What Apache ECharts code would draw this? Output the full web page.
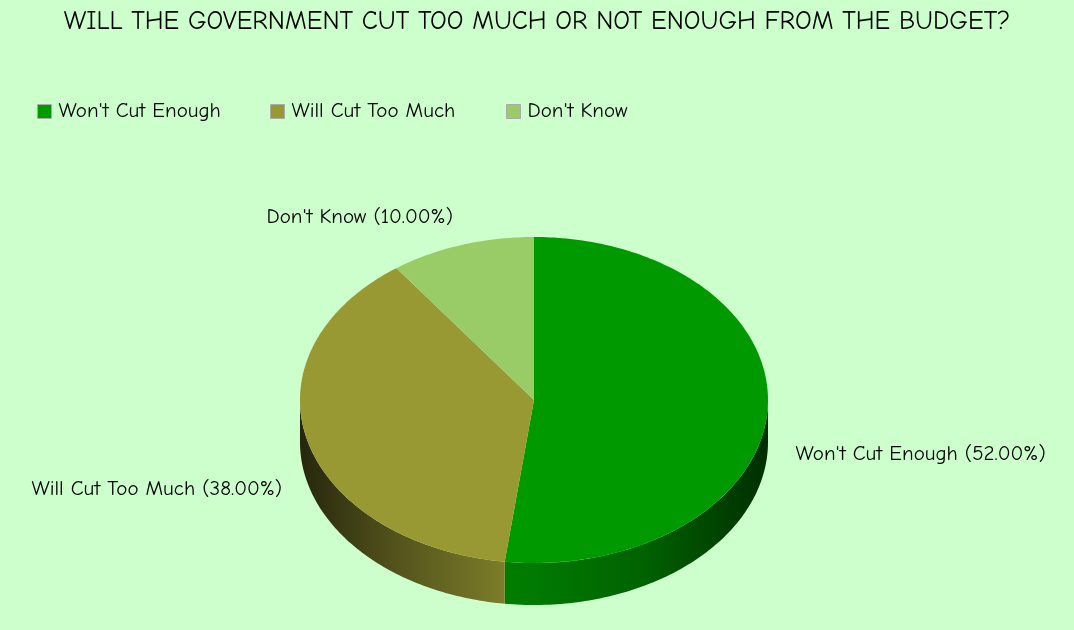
<!DOCTYPE html>
<html>
<head>
<meta charset="utf-8">
<script src="https://cdn.jsdelivr.net/npm/echarts@6/dist/echarts.min.js"></script>
<style>
html,body{margin:0;padding:0;background:#ccffcc;}
#main{width:1074px;height:630px;}
</style>
</head>
<body>
<div id="main"></div>
<script>
const titleText = "WILL THE GOVERNMENT CUT TOO MUCH OR NOT ENOUGH FROM THE BUDGET?";
const categories = ["Won't Cut Enough", "Will Cut Too Much", "Don't Know"];
const values = [52, 38, 10];
const colors = ["#009900", "#999933", "#99cc66"];

const FONT = "'Comic Neue','Comic Sans MS','Lato','DejaVu Sans',sans-serif";
const total = values.reduce((a, b) => a + b, 0);

function hexToRgb(h) {
  return [parseInt(h.slice(1, 3), 16), parseInt(h.slice(3, 5), 16), parseInt(h.slice(5, 7), 16)];
}
function shade(h, m) {
  const c = hexToRgb(h).map(v => Math.round(v * m));
  return 'rgb(' + c.join(',') + ')';
}
const shadeStops = [[0, 0.25], [0.21, 0.55], [0.44, 0.82], [0.5, 0.8], [0.73, 0.65], [1, 0.3]];

function renderSlice(params, api) {
  const idx = api.value(0);
  const w = api.getWidth();
  const cx = w * 0.4972, cy = 400;
  const rx = 234, ry = 163, depth = 42;
  let before = 0;
  for (let i = 0; i < idx; i++) before += values[i];
  const a0 = before / total * 360;
  const a1 = (before + values[idx]) / total * 360;
  const pt = (deg, dy, sx, sy) => {
    const r = deg * Math.PI / 180;
    return [cx + (sx || rx) * Math.sin(r), cy - (sy || ry) * Math.cos(r) + (dy || 0)];
  };
  const children = [];
  const w0 = Math.max(a0, 90), w1 = Math.min(a1, 270);
  if (w1 > w0) {
    const pts = [];
    const n = Math.max(8, Math.ceil(w1 - w0));
    for (let k = 0; k <= n; k++) pts.push(pt(w0 + (w1 - w0) * k / n, 0));
    for (let k = n; k >= 0; k--) pts.push(pt(w0 + (w1 - w0) * k / n, depth));
    children.push({
      type: 'polygon',
      shape: { points: pts },
      style: {
        fill: {
          type: 'linear', x: cx - rx, y: 0, x2: cx + rx, y2: 0, global: true,
          colorStops: shadeStops.map(s => ({ offset: s[0], color: shade(colors[idx], s[1]) }))
        }
      }
    });
  }
  const top = [[cx, cy]];
  const n2 = Math.max(8, Math.ceil(a1 - a0));
  for (let k = 0; k <= n2; k++) top.push(pt(a0 + (a1 - a0) * k / n2, 0));
  children.push({ type: 'polygon', shape: { points: top }, style: { fill: colors[idx] } });
  const mid = (a0 + a1) / 2;
  const lp = pt(mid, 0, rx + 25, ry + 25);
  const lower = Math.cos(mid * Math.PI / 180) < 0;
  const y = lp[1] + (lower ? depth : -4);
  const right = Math.sin(mid * Math.PI / 180) >= 0;
  children.push({
    type: 'text',
    x: lp[0] + (right ? 3 : -1), y: y,
    style: {
      text: categories[idx] + ' (' + (values[idx] / total * 100).toFixed(2) + '%)',
      fill: '#000', font: '21px ' + FONT,
      align: right ? 'left' : 'right', verticalAlign: 'middle'
    }
  });
  return { type: 'group', children: children };
}

const legendLefts = [37, 270, 506];
const option = {
  backgroundColor: '#ccffcc',
  animation: false,
  title: {
    text: titleText, left: 'center', top: 4,
    textStyle: { fontFamily: FONT, fontSize: 26, fontWeight: 'normal', color: '#000' }
  },
  legend: categories.map((c, i) => ({
    data: [c], left: legendLefts[i], top: 101, padding: 0, icon: 'rect', itemWidth: 14, itemHeight: 14, itemGap: 8,
    selectedMode: false,
    itemStyle: { borderColor: '#aaaaaa', borderWidth: 1 },
    textStyle: { fontFamily: FONT, fontSize: 21, color: '#000', padding: [0, 0, 0, 2] }
  })),
  series: categories.map((c, i) => ({
    type: 'custom', name: c, coordinateSystem: 'none',
    itemStyle: { color: colors[i] },
    renderItem: renderSlice,
    data: [[i]]
  }))
};
const chart = echarts.init(document.getElementById('main'), null, { renderer: 'canvas' });
chart.setOption(option);
</script>
</body>
</html>
